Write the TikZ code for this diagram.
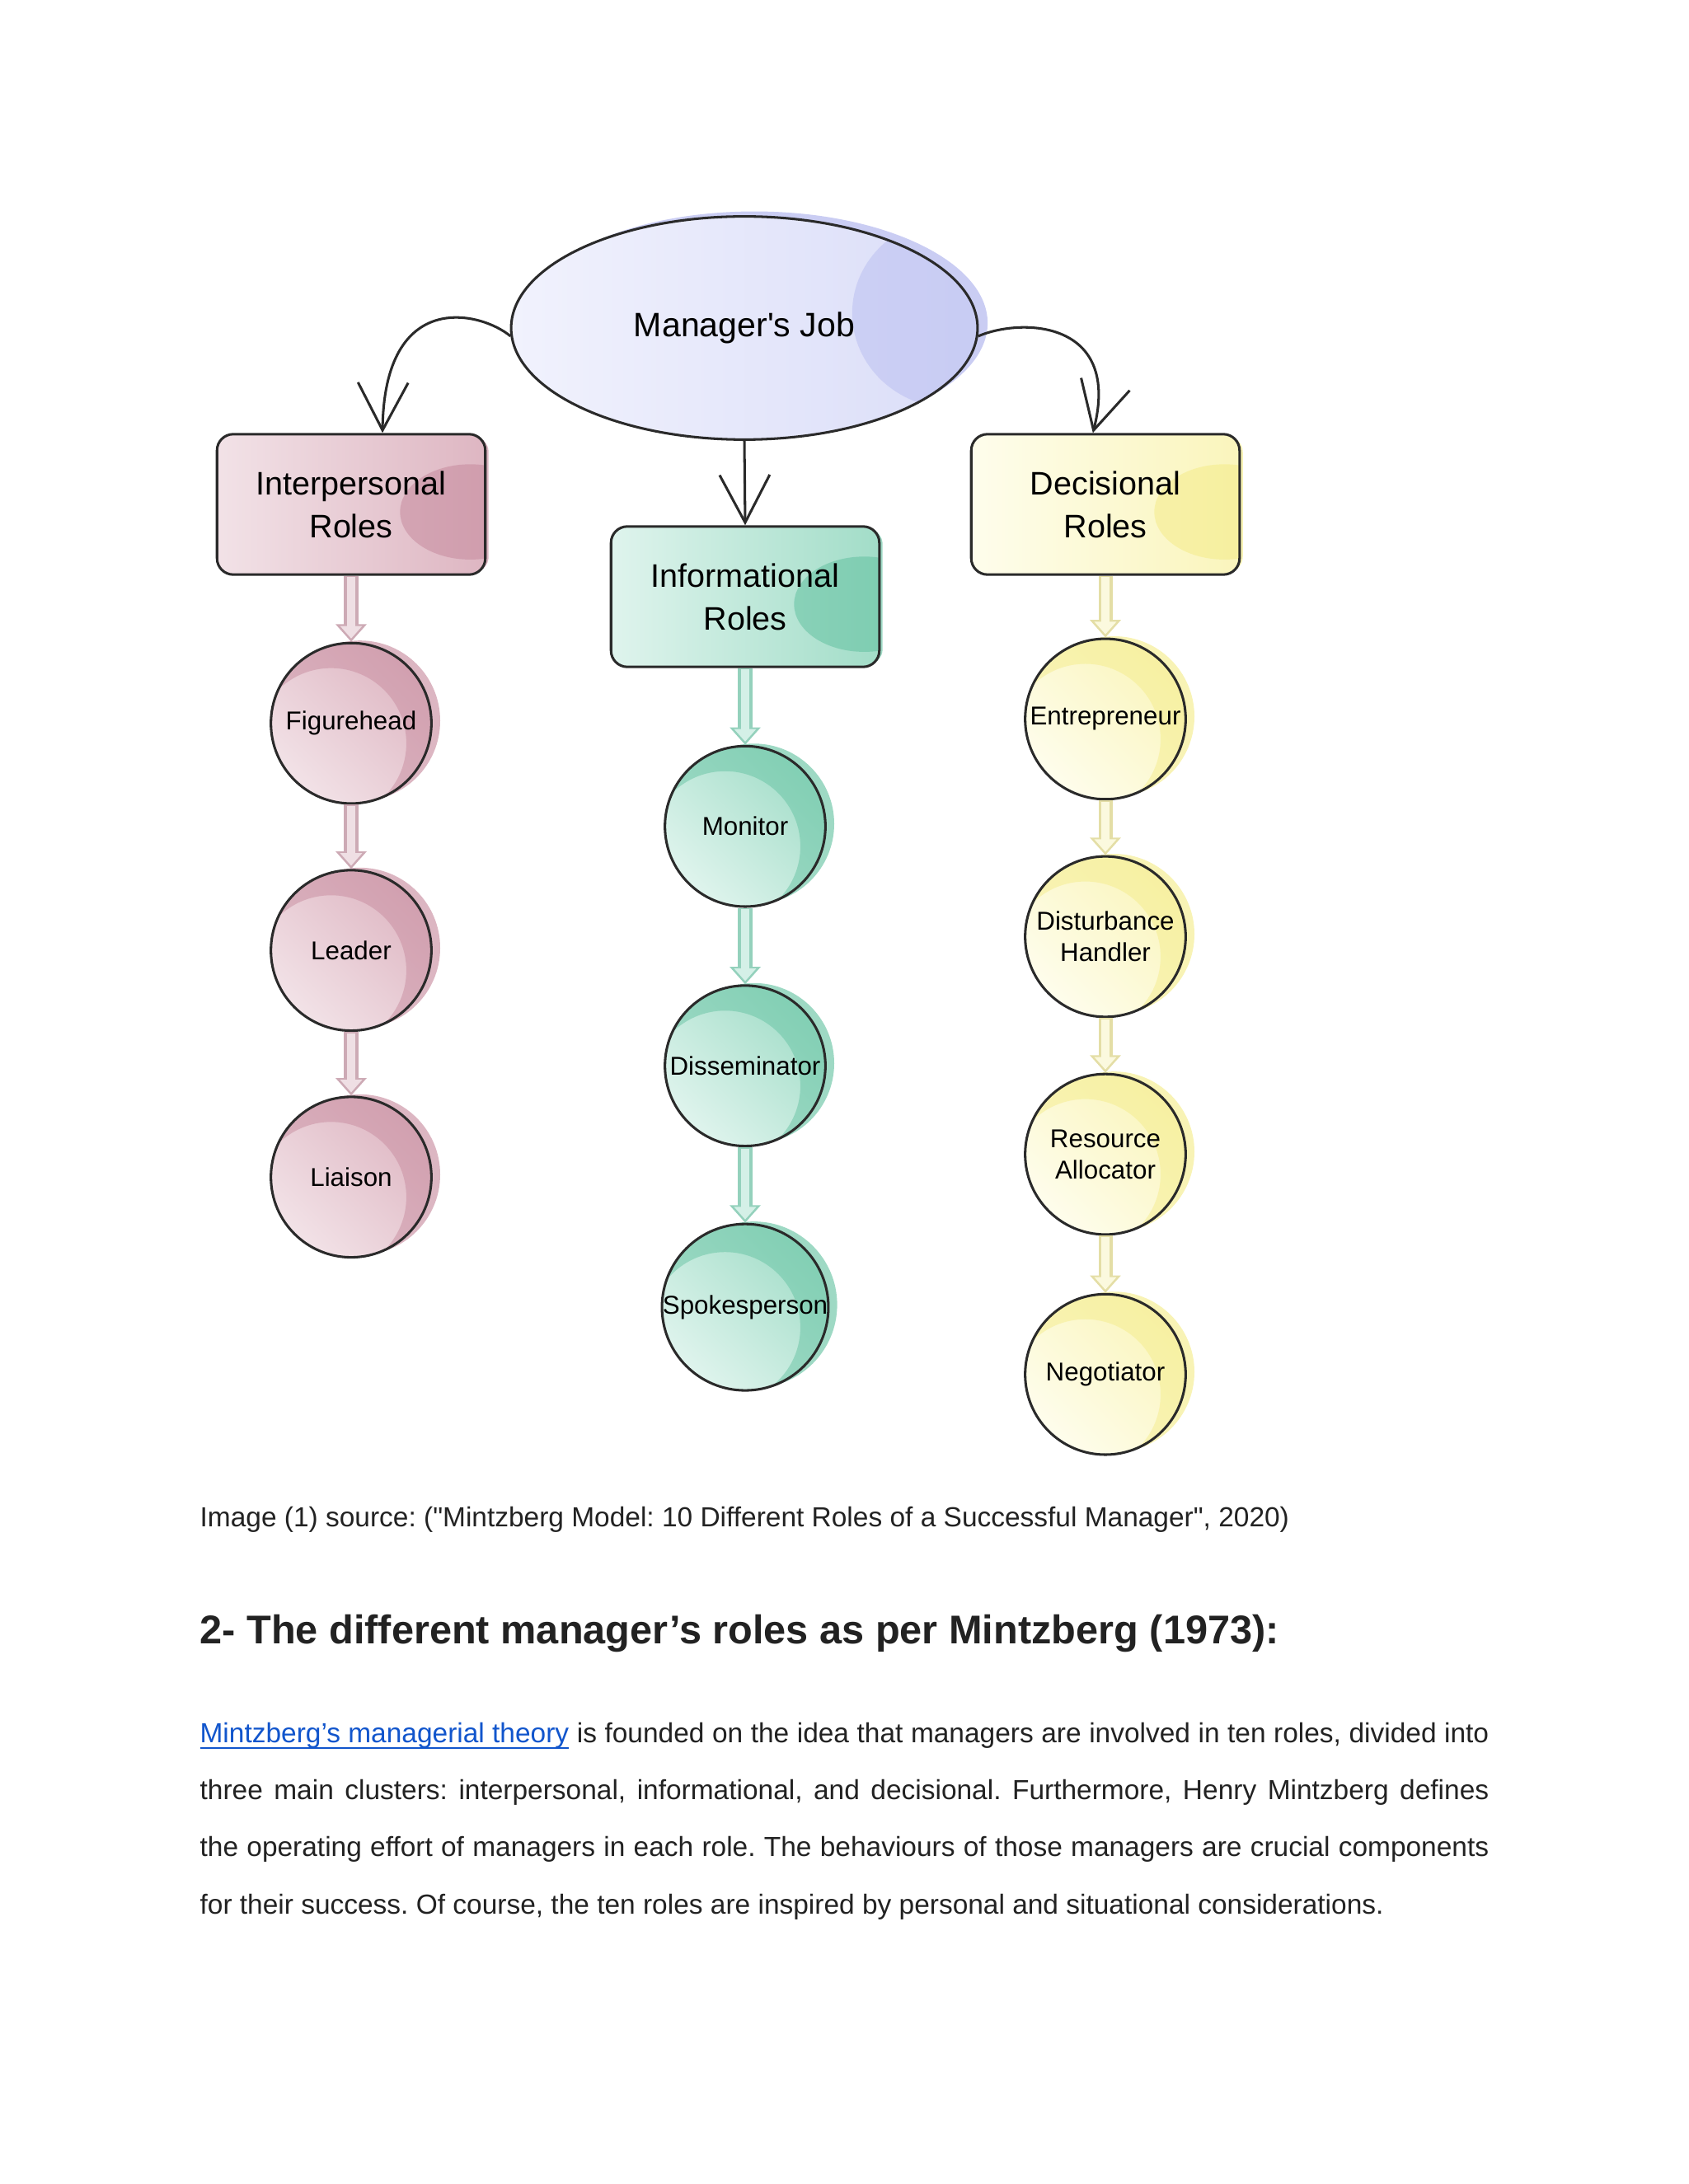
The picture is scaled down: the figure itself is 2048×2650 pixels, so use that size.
\documentclass[tikz,border=0pt]{standalone}
\usepackage{fontspec}
\setmainfont{Liberation Sans}
\usetikzlibrary{arrows.meta,positioning,shadows,shapes.geometric}

\definecolor{lavlight}{HTML}{F1F2FD}
\definecolor{lavmid}{HTML}{DADDF8}
\definecolor{lavdark}{HTML}{B3B8EE}
\definecolor{pinklight}{HTML}{F2E2E7}
\definecolor{pinkmid}{HTML}{DEB6C2}
\definecolor{pinkdark}{HTML}{C4869A}
\definecolor{pinkline}{HTML}{CDAAB5}
\definecolor{pinkpale}{HTML}{EFDFE4}
\definecolor{teallight}{HTML}{DFF4ED}
\definecolor{tealmid}{HTML}{A2DDC8}
\definecolor{tealdark}{HTML}{5DBF9D}
\definecolor{tealline}{HTML}{94D1BC}
\definecolor{tealpale}{HTML}{D4F0E7}
\definecolor{yellight}{HTML}{FEFDEC}
\definecolor{yelmid}{HTML}{FAF5BC}
\definecolor{yeldark}{HTML}{F4EB84}
\definecolor{yelline}{HTML}{E4DEA6}
\definecolor{yelpale}{HTML}{FBF9DE}
\definecolor{outline}{HTML}{2A2A2A}
\definecolor{linkblue}{HTML}{1155CC}
\definecolor{bodytext}{HTML}{222222}

\newcommand{\linktext}[1]{{\color{linkblue}\setbox0=\hbox{#1}\rlap{\rule[-2.6pt]{\wd0}{0.75pt}}\box0}}

% role styles, #1 = colour family
\tikzset{
  rolecircle/.style={circle, draw=outline, line width=1pt, minimum size=64pt, inner sep=0pt,
    left color=#1light, right color=#1mid, shading angle=135,
    general shadow={fill=#1dark!60, shadow xshift=3.5pt, shadow yshift=1pt},
    path picture={\fill[#1dark, opacity=.45, even odd rule]
      (path picture bounding box.south west) rectangle (path picture bounding box.north east)
      ([shift={(-8pt,-8pt)}]path picture bounding box.center) circle (30pt);},
    align=center, font=\fontsize{10.3}{12.5}\selectfont},
  rolebox/.style={rectangle, rounded corners=6.5pt, draw=outline, line width=1pt,
    minimum width=107pt, minimum height=56pt, inner sep=0pt,
    left color=#1light, right color=#1mid,
    general shadow={fill=#1dark!60, shadow xshift=3pt, shadow yshift=0pt, shadow scale=.97},
    path picture={\fill[#1dark, opacity=.5]
      ([shift={(-6pt,-3pt)}]path picture bounding box.east) ellipse (28pt and 19pt);},
    align=center, font=\fontsize{13}{17.1}\selectfont},
  fatarrow/.style={draw=#1line, line width=5.6pt, -{Triangle[length=7pt,width=12pt]},
    postaction={draw=#1pale, line width=3.4pt, shorten <=0.5pt, shorten >=1.3pt,
      -{Triangle[length=5pt,width=8.5pt]}}}
}

\begin{document}
\frenchspacing
\begin{tikzpicture}[x=0.3287pt, y=-0.3287pt]
      \tikzstyle{jobellipse}=[ellipse, draw=outline, line width=1pt, minimum width=186pt,
        minimum height=89pt, inner sep=0pt, left color=lavlight, right color=lavmid,
        general shadow={fill=lavdark!70, shadow xshift=4pt, shadow yshift=2pt},
        path picture={\fill[lavdark, opacity=.45]
          ([shift={(-10pt,6pt)}]path picture bounding box.east) ellipse (40pt and 38pt);},
        font=\fontsize{13.5}{16}\selectfont]
      \tikzstyle{bigarrow}=[draw=outline, line width=1pt, -{Straight Barb[length=19pt,width=20pt]}]
      \tikzstyle{textline}=[anchor=base west, inner sep=0pt, text=bodytext]
      \useasboundingbox (0,0) rectangle (2048,2650);

      % top of the tree
      \node[jobellipse] (MJ) at (903,398) {Manager\textquotesingle s Job};
      \node[rolebox=pink] (IR) at (426,612) {Interpersonal\\Roles};
      \node[rolebox=teal] (INF) at (904,724) {Informational\\Roles};
      \node[rolebox=yel] (DR) at (1341,612) {Decisional\\Roles};

      % interpersonal column
      \node[rolecircle=pink, below = 26.3pt of IR] (FH) {Figurehead};
      \node[rolecircle=pink, below = 25.6pt of FH] (LD) {Leader};
      \node[rolecircle=pink, below = 25.4pt of LD] (LI) {Liaison};

      % informational column
      \node[rolecircle=teal, below = 30.6pt of INF] (MO) {Monitor};
      \node[rolecircle=teal, below = 30.5pt of MO] (DI) {Disseminator};
      \node[rolecircle=teal, below = 30.1pt of DI] (SP) {Spokesperson};

      % decisional column
      \node[rolecircle=yel, below = 24.6pt of DR] (EN) {Entrepreneur};
      \node[rolecircle=yel, below = 21.8pt of EN] (DH) {Disturbance\\Handler};
      \node[rolecircle=yel, below = 21.8pt of DH] (RA) {Resource\\Allocator};
      \node[rolecircle=yel, below = 22.8pt of RA] (NE) {Negotiator};

      \draw[bigarrow] (MJ.182) .. controls +(-36,-30) and +(2,-176) .. ([xshift=12.5pt]IR.north);
      \draw[bigarrow] (MJ.south) -- (INF.north);
      \draw[bigarrow] (MJ.-2) .. controls +(54,-23) and +(35,-136) .. ([xshift=-5pt]DR.north);

      \draw[fatarrow=pink] (IR.south) -- (FH.north);
      \draw[fatarrow=pink] (FH.south) -- (LD.north);
      \draw[fatarrow=pink] (LD.south) -- (LI.north);
      \draw[fatarrow=teal] (INF.south) -- (MO.north);
      \draw[fatarrow=teal] (MO.south) -- (DI.north);
      \draw[fatarrow=teal] (DI.south) -- (SP.north);
      \draw[fatarrow=yel] (DR.south) -- (EN.north);
      \draw[fatarrow=yel] (EN.south) -- (DH.north);
      \draw[fatarrow=yel] (DH.south) -- (RA.north);
      \draw[fatarrow=yel] (RA.south) -- (NE.north);

      % text under the picture
      \node[textline, font=\fontsize{11}{13}\selectfont] (caption) at (242,1852)
        {Image (1) source: (\textquotedbl Mintzberg Model: 10 Different Roles of a Successful Manager\textquotedbl, 2020)};
      \node[textline, font=\fontsize{16}{19}\selectfont\bfseries] (heading) at (242,1994)
        {2- The different manager’s roles as per Mintzberg (1973):};
      \node[textline, text width=514pt, align=justify, font=\fontsize{11}{22.8}\selectfont] (para) at (242,2114)
        {\linktext{Mintzberg’s managerial theory} is founded on the idea that managers are involved in ten roles, divided into\linebreak
         three main clusters: interpersonal, informational, and decisional. Furthermore, Henry Mintzberg defines\linebreak
         the operating effort of managers in each role. The behaviours of those managers are crucial components\linebreak
         for their success. Of course, the ten roles are inspired by personal and situational considerations.};
    \end{tikzpicture}
\end{document}
